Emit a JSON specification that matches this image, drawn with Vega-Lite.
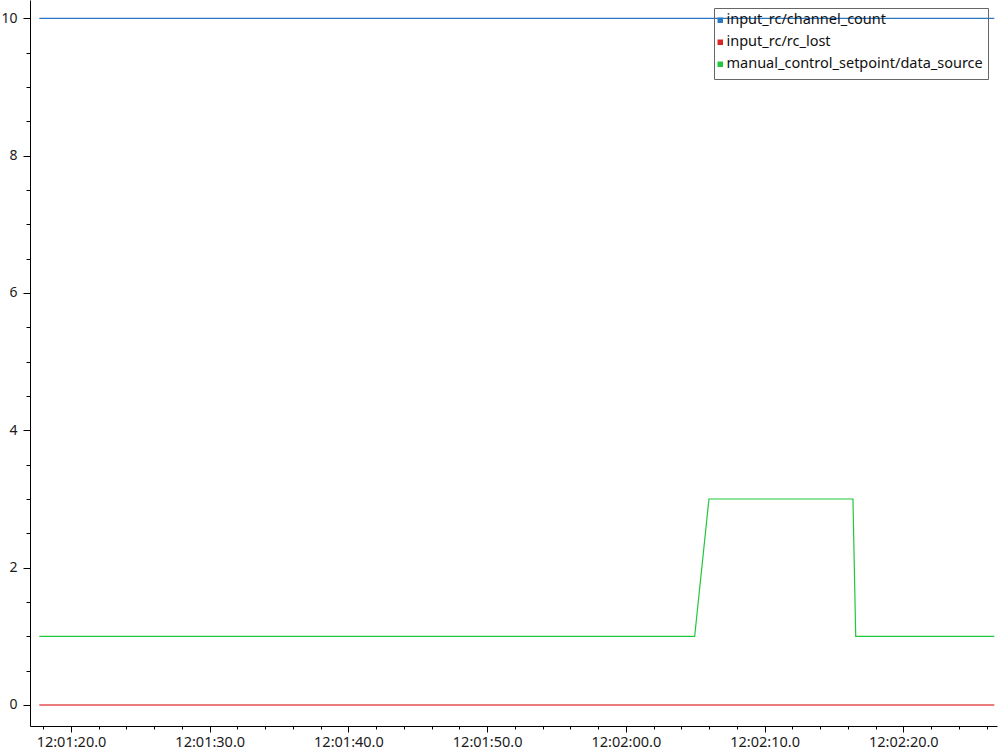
{
  "$schema": "https://vega.github.io/schema/vega-lite/v6.json",
  "autosize": "none",
  "padding": {"left": 30, "top": 0, "right": 2, "bottom": 24},
  "width": 967,
  "height": 726,
  "config": {
    "view": {"stroke": null},
    "axis": {
      "grid": false,
      "domainColor": "#000000",
      "tickColor": "#000000",
      "labelColor": "#1a1a1a",
      "labelFont": "Noto Sans",
      "labelFontSize": 14,
      "title": null
    }
  },
  "data": {
    "values": [
      {"t": 77.715, "value": 10, "series": "input_rc/channel_count"},
      {"t": 146.56, "value": 10, "series": "input_rc/channel_count"},
      {"t": 77.715, "value": 0, "series": "input_rc/rc_lost"},
      {"t": 146.56, "value": 0, "series": "input_rc/rc_lost"},
      {"t": 77.715, "value": 1, "series": "manual_control_setpoint/data_source"},
      {"t": 124.96, "value": 1, "series": "manual_control_setpoint/data_source"},
      {"t": 125.99, "value": 3, "series": "manual_control_setpoint/data_source"},
      {"t": 136.37, "value": 3, "series": "manual_control_setpoint/data_source"},
      {"t": 136.57, "value": 1, "series": "manual_control_setpoint/data_source"},
      {"t": 146.56, "value": 1, "series": "manual_control_setpoint/data_source"}
    ]
  },
  "mark": {"type": "line"},
  "encoding": {
    "x": {
      "field": "t",
      "type": "quantitative",
      "scale": {"domain": [77.044, 146.755], "nice": false, "zero": false},
      "axis": {
        "values": [78, 80, 82, 84, 86, 88, 90, 92, 94, 96, 98, 100, 102, 104, 106, 108, 110, 112, 114, 116, 118, 120, 122, 124, 126, 128, 130, 132, 134, 136, 138, 140, 142, 144, 146],
        "tickSize": {"condition": {"test": "datum.value % 10 === 0", "value": 6}, "value": 3},
        "labelPadding": 3,
        "labelFontSize": 14.5,
        "labelOverlap": false,
        "labelExpr": "datum.value % 10 === 0 ? '12:0' + floor(datum.value / 60) + ':' + (datum.value % 60 < 10 ? '0' : '') + (datum.value % 60) + '.0' : ''"
      }
    },
    "y": {
      "field": "value",
      "type": "quantitative",
      "scale": {"domain": [-0.306, 10.267], "nice": false, "zero": false},
      "axis": {
        "values": [0, 0.5, 1, 1.5, 2, 2.5, 3, 3.5, 4, 4.5, 5, 5.5, 6, 6.5, 7, 7.5, 8, 8.5, 9, 9.5, 10],
        "tickSize": {"condition": {"test": "datum.value % 2 === 0", "value": 7}, "value": 4},
        "labelPadding": 6,
        "labelOverlap": false,
        "labelExpr": "datum.value % 2 === 0 ? '' + datum.value : ''"
      }
    },
    "color": {
      "field": "series",
      "type": "nominal",
      "scale": {
        "domain": ["input_rc/channel_count", "input_rc/rc_lost", "manual_control_setpoint/data_source"],
        "range": ["#2a78c4", "#dd2424", "#22c83c"]
      },
      "legend": {
        "title": null,
        "orient": "none",
        "legendX": 684,
        "legendY": 8,
        "strokeColor": "#666666",
        "padding": 5,
        "symbolType": "square",
        "symbolSize": 1,
        "symbolStrokeWidth": 4.5,
        "symbolOpacity": 1,
        "symbolOffset": -6,
        "labelFont": "Noto Sans",
        "labelFontSize": 14.5,
        "labelColor": "#111111",
        "labelOffset": -1,
        "rowPadding": 2,
        "labelLimit": 400
      }
    },
    "strokeOpacity": {
      "condition": {"test": "datum.series === 'input_rc/rc_lost'", "value": 0.6},
      "value": 1
    },
    "strokeWidth": {
      "condition": {"test": "datum.series === 'input_rc/rc_lost'", "value": 1.8},
      "value": 1.2
    }
  }
}
